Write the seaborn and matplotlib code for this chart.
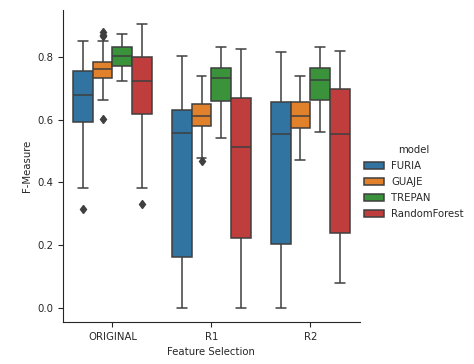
import pandas as pd
import matplotlib.pyplot as plt
import seaborn as sns

# F-measure samples, per feature selection and model
selections = ["ORIGINAL", "R1", "R2"]
models = ["FURIA", "GUAJE", "TREPAN", "RandomForest"]

orig_furia = [0.316, 0.382, 0.591, 0.63, 0.678, 0.72, 0.755, 0.80, 0.850]
orig_guaje = [0.602, 0.663, 0.70, 0.72, 0.734, 0.74, 0.75, 0.755, 0.760,
              0.765, 0.77, 0.778, 0.783, 0.850, 0.866, 0.871, 0.878]
orig_trepan = [0.722, 0.770, 0.804, 0.832, 0.873]
orig_rf = [0.330, 0.382, 0.617, 0.68, 0.723, 0.76, 0.799, 0.85, 0.904]

r1_furia = [0.0, 0.162, 0.558, 0.631, 0.804]
r1_guaje = [0.468, 0.479, 0.580, 0.60, 0.611, 0.63, 0.650, 0.70, 0.739]
r1_trepan = [0.541, 0.659, 0.732, 0.764, 0.831]
r1_rf = [0.0, 0.222, 0.512, 0.668, 0.825]

r2_furia = [0.0, 0.202, 0.553, 0.657, 0.817]
r2_guaje = [0.471, 0.573, 0.612, 0.657, 0.739]
r2_trepan = [0.561, 0.663, 0.726, 0.764, 0.831]
r2_rf = [0.080, 0.238, 0.553, 0.697, 0.818]

samples = {
    "ORIGINAL": [orig_furia, orig_guaje, orig_trepan, orig_rf],
    "R1": [r1_furia, r1_guaje, r1_trepan, r1_rf],
    "R2": [r2_furia, r2_guaje, r2_trepan, r2_rf],
}

rows = []
for sel in selections:
    for model, vals in zip(models, samples[sel]):
        for v in vals:
            rows.append({"Feature Selection": sel, "model": model, "F-Measure": v})
df = pd.DataFrame(rows)

sns.set_style("ticks")
plt.rcParams["font.family"] = ["DejaVu Sans"]
fs = 7.3

fig = plt.figure(figsize=(4.74, 3.64), dpi=100)
ax = fig.add_axes([0.133, 0.1154, 0.626, 0.857])

line = "#3f3f3f"
sns.boxplot(data=df, x="Feature Selection", y="F-Measure", hue="model",
            order=selections, hue_order=models, ax=ax, linecolor=line,
            linewidth=1.1,
            flierprops=dict(marker="d", markersize=4.5, markerfacecolor=line,
                            markeredgecolor=line))
sns.despine(ax=ax)

ax.set_xlim(-0.5, 2.5)
ax.tick_params(labelsize=fs)
ax.set_xlabel("Feature Selection", fontsize=fs)
ax.set_ylabel("F-Measure", fontsize=fs)

handles, labels = ax.get_legend_handles_labels()
ax.get_legend().remove()
fig.legend(handles, labels, title="model", loc="center left",
           bbox_to_anchor=(0.748, 0.5), frameon=False, fontsize=fs,
           title_fontsize=fs, labelspacing=0.6, handletextpad=0.7)

fig.savefig("out.png", dpi=100)
